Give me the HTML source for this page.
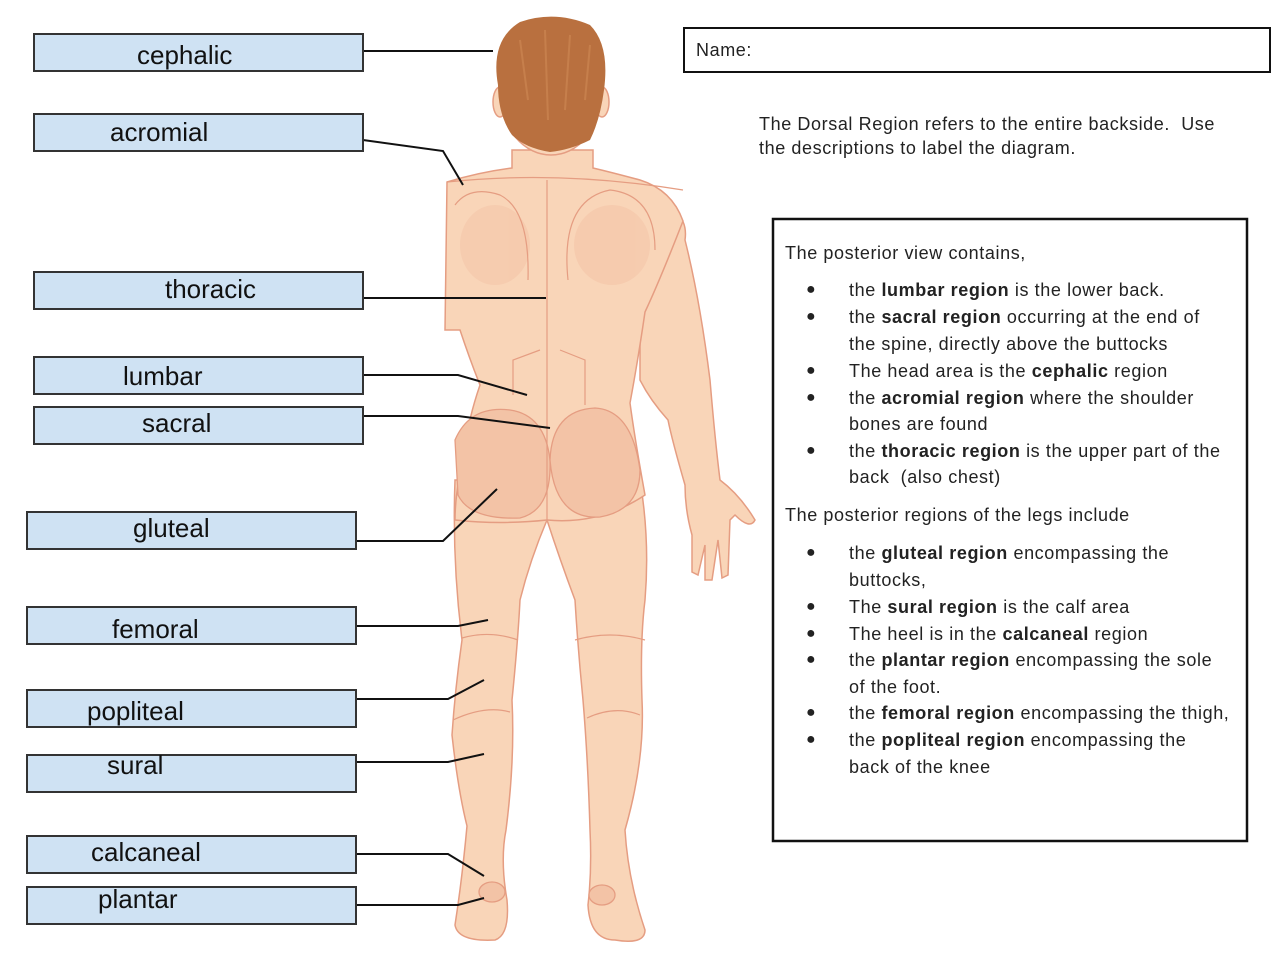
<!DOCTYPE html>
<html><head><meta charset="utf-8"><style>
body{margin:0;background:#fff;width:1280px;height:962px;position:relative;overflow:hidden;font-family:"Liberation Sans",Arial,sans-serif;}
.lb{position:absolute;background:#cfe2f3;border:2px solid #333;box-sizing:border-box;height:39px;width:331px;font-size:26px;color:#111;}
.lb span{position:absolute;top:5px}
.t{position:absolute;font-size:18px;letter-spacing:0.6px;color:#222;white-space:nowrap;}
.b{position:absolute;left:806px;font-size:16px;color:#222}
</style></head><body>
<svg width="1280" height="962" style="position:absolute;left:0;top:0">
<g fill="#f9d5b8" stroke="#e59d82" stroke-width="1.5">
 <path d="M640,200 Q690,205 685,240 Q700,300 710,380 Q715,440 720,480 Q740,495 755,520 Q750,530 735,515 L730,520 L728,575 L722,578 L718,540 L712,580 L705,580 L705,545 L698,575 L692,572 L692,535 Q685,510 685,485 Q672,440 668,420 Q650,400 640,380 Z"/>
 <path d="M455,480 Q452,560 462,640 Q455,690 452,735 Q458,790 467,826 Q462,880 455,925 Q458,942 495,940 Q510,935 507,900 Q500,860 506,830 Q515,760 512,700 Q518,640 520,600 Q530,560 547,520 Q560,560 575,600 Q578,650 583,700 Q588,760 590,830 Q592,870 588,905 Q590,940 615,940 Q645,945 645,930 Q628,880 625,830 Q645,760 642,700 Q640,640 645,600 Q650,540 640,480 Z"/>
 <path d="M512,150 L512,168 Q480,172 447,182 L445,330 L460,330 Q470,360 480,385 Q468,420 466,445 Q455,490 455,520 Q500,525 547,520 Q600,525 645,495 Q635,440 630,403 Q638,360 645,312 Q660,280 683,221 Q672,190 640,180 Q610,172 593,168 L593,150 Z"/>
 <ellipse cx="500" cy="102" rx="7" ry="15"/><ellipse cx="602" cy="102" rx="7" ry="15"/>
 <ellipse cx="551" cy="95" rx="50" ry="60"/>
</g>
<g fill="#f3c3a6" stroke="#e59d82" stroke-width="1.3">
 <path d="M455,440 Q470,405 510,410 Q545,415 550,460 Q552,510 520,518 Q470,520 458,495 Z"/>
 <path d="M550,460 Q552,410 595,408 Q632,410 640,470 Q640,510 600,517 Q555,520 550,460 Z"/>
 <ellipse cx="492" cy="892" rx="13" ry="10"/><ellipse cx="602" cy="895" rx="13" ry="10"/>
</g>
<g fill="#f5c8ab" stroke="none" opacity="0.7">
 <ellipse cx="495" cy="245" rx="35" ry="40"/><ellipse cx="612" cy="245" rx="38" ry="40"/>
</g>
<g fill="none" stroke="#e59d82" stroke-width="1.2">
 <path d="M447,182 Q560,170 683,190"/><path d="M462,638 Q490,630 518,640"/><path d="M575,640 Q610,630 645,640"/>
 <path d="M453,720 Q485,705 510,712"/><path d="M587,718 Q615,705 640,715"/>
 <path d="M513,395 L513,360 L540,350"/><path d="M585,405 L585,360 L560,350"/>
 <path d="M547,180 L547,520"/><path d="M455,205 Q470,185 500,195 Q530,210 528,280"/><path d="M568,280 Q560,200 610,190 Q655,195 655,250"/>
</g>
<path d="M498,85 Q490,40 520,22 Q555,10 590,25 Q610,45 604,90 Q600,120 590,140 Q570,150 550,152 Q525,148 512,135 Q498,115 498,85 Z" fill="#b9703f"/>
<g stroke="#d08a55" stroke-width="2" fill="none" opacity="0.6">
 <path d="M520,40 L528,100"/><path d="M545,30 L548,120"/><path d="M570,35 L565,110"/><path d="M590,45 L585,100"/>
</g>
<g stroke="#111" stroke-width="2" fill="none">
 <path d="M363,51 H493"/><path d="M363,140 L443,151 L463,185"/><path d="M363,298 H546"/>
 <path d="M363,375 H458 L527,395"/><path d="M363,416 H458 L550,428"/><path d="M356,541 H443 L497,489"/>
 <path d="M356,626 H458 L488,620"/><path d="M356,699 H448 L484,680"/><path d="M356,762 H448 L484,754"/>
 <path d="M356,854 H448 L484,876"/><path d="M356,905 H458 L484,898"/>
</g>
<rect x="684" y="28" width="586" height="44" fill="none" stroke="#111" stroke-width="2"/>
<rect x="773" y="219" width="474" height="622" fill="none" stroke="#111" stroke-width="2.5"/>
</svg>
<div class="lb" style="left:33px;top:33px"><span style="left:102px">cephalic</span></div>
<div class="lb" style="left:33px;top:113px"><span style="left:75px;top:2px">acromial</span></div>
<div class="lb" style="left:33px;top:271px"><span style="left:130px;top:1px">thoracic</span></div>
<div class="lb" style="left:33px;top:356px"><span style="left:88px;top:3px">lumbar</span></div>
<div class="lb" style="left:33px;top:406px"><span style="left:107px;top:0px">sacral</span></div>
<div class="lb" style="left:26px;top:511px"><span style="left:105px;top:0px">gluteal</span></div>
<div class="lb" style="left:26px;top:606px"><span style="left:84px;top:6px">femoral</span></div>
<div class="lb" style="left:26px;top:689px"><span style="left:59px;top:5px">popliteal</span></div>
<div class="lb" style="left:26px;top:754px"><span style="left:79px;top:-6px">sural</span></div>
<div class="lb" style="left:26px;top:835px"><span style="left:63px;top:0px">calcaneal</span></div>
<div class="lb" style="left:26px;top:886px"><span style="left:70px;top:-4px">plantar</span></div>
<div class="t" style="left:696px;top:40px">Name:</div>
<div class="t" style="left:759px;top:114px">The Dorsal Region refers to the entire backside.&nbsp; Use</div>
<div class="t" style="left:759px;top:138px">the descriptions to label the diagram.</div>
<div class="t" style="left:785px;top:243px">The posterior view contains,</div>
<div class="t" style="left:849px;top:280px">the <b>lumbar region</b> is the lower back.</div>
<div class="t" style="left:849px;top:307px">the <b>sacral region</b> occurring at the end of</div>
<div class="t" style="left:849px;top:334px">the spine, directly above the buttocks</div>
<div class="t" style="left:849px;top:361px">The head area is the <b>cephalic</b> region</div>
<div class="t" style="left:849px;top:388px">the <b>acromial region</b> where the shoulder</div>
<div class="t" style="left:849px;top:414px">bones are found</div>
<div class="t" style="left:849px;top:441px">the <b>thoracic region</b> is the upper part of the</div>
<div class="t" style="left:849px;top:467px">back&nbsp; (also chest)</div>
<div class="t" style="left:785px;top:505px">The posterior regions of the legs include</div>
<div class="t" style="left:849px;top:543px">the <b>gluteal region</b> encompassing the</div>
<div class="t" style="left:849px;top:570px">buttocks,</div>
<div class="t" style="left:849px;top:597px">The <b>sural region</b> is the calf area</div>
<div class="t" style="left:849px;top:624px">The heel is in the <b>calcaneal</b> region</div>
<div class="t" style="left:849px;top:650px">the <b>plantar region</b> encompassing the sole</div>
<div class="t" style="left:849px;top:677px">of the foot.</div>
<div class="t" style="left:849px;top:703px">the <b>femoral region</b> encompassing the thigh,</div>
<div class="t" style="left:849px;top:730px">the <b>popliteal region</b> encompassing the</div>
<div class="t" style="left:849px;top:757px">back of the knee</div>
<div class="b" style="top:281px">●</div><div class="b" style="top:308px">●</div><div class="b" style="top:362px">●</div><div class="b" style="top:389px">●</div><div class="b" style="top:442px">●</div>
<div class="b" style="top:544px">●</div><div class="b" style="top:598px">●</div><div class="b" style="top:625px">●</div><div class="b" style="top:651px">●</div><div class="b" style="top:704px">●</div><div class="b" style="top:731px">●</div>
</body></html>
